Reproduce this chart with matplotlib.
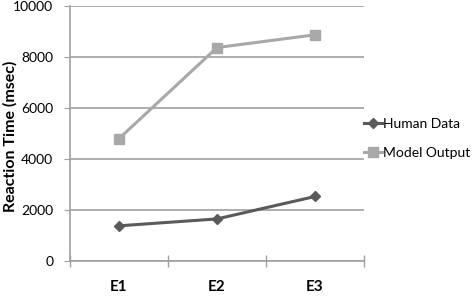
import numpy as np
import matplotlib.pyplot as plt

categories = ["E1", "E2", "E3"]
human = [1380, 1650, 2530]
model = [4800, 8370, 8870]

plt.rcParams['font.family'] = ['Lato', 'DejaVu Sans']

fig = plt.figure(figsize=(4.74, 2.96), dpi=100)
ax = fig.add_axes([70 / 474, 35 / 296, 294 / 474, 255 / 296])

x = np.arange(len(categories)) + 0.5
ax.plot(x, human, color='#5a5a5a', lw=2.2, marker='D', ms=5.5, label='Human Data')
ax.plot(x, model, color='#a8a8a8', lw=2.2, marker='s', ms=6.5, label='Model Output')

ax.set_xlim(0, 3)
ax.set_ylim(0, 10000)
ax.set_yticks(np.arange(0, 10001, 2000))
ax.set_xticks([0, 1, 2, 3])
ax.set_xticklabels([])
ax.set_xticks(x, minor=True)
ax.set_xticklabels(categories, minor=True, fontweight='bold', fontsize=11)
ax.tick_params(axis='x', which='major', direction='inout', length=9, color='#a0a0a0', width=1)
ax.tick_params(axis='x', which='minor', length=0, pad=14)
ax.tick_params(axis='y', direction='out', length=4, color='#a0a0a0', labelsize=10, pad=8)

ax.yaxis.grid(True, color='#a0a0a0', lw=1.2)
ax.set_axisbelow(True)
for s in ['top', 'right']:
    ax.spines[s].set_visible(False)
for s in ['left', 'bottom']:
    ax.spines[s].set_color('#a0a0a0')
    ax.spines[s].set_linewidth(1.2)

ax.set_ylabel('Reaction Time (msec)', fontweight='bold', fontsize=11.5)
ax.yaxis.set_label_coords(-0.18, 0.49)

ax.legend(loc='center left', bbox_to_anchor=(1.0, 0.48), frameon=False,
          fontsize=10, handlelength=1.3, handletextpad=0.1, labelspacing=1.2,
          borderaxespad=0, borderpad=0)

fig.savefig('out.png', dpi=100)
